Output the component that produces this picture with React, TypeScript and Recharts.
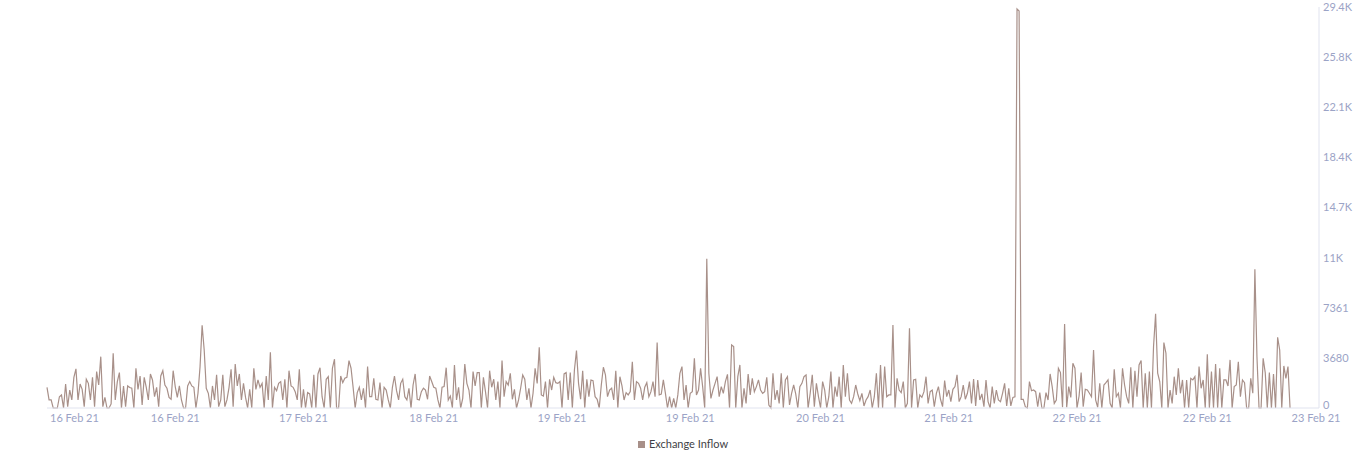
import { LineChart, Line, XAxis, YAxis, Legend } from 'recharts'

// x positions are sample indices (one sample every ~15 min)
const tickIdx = [0, 62, 124, 187, 249, 311, 374, 436, 498, 561, 615]
const tickLabels = [
  '16 Feb 21', '16 Feb 21', '17 Feb 21', '18 Feb 21', '19 Feb 21', '19 Feb 21',
  '20 Feb 21', '21 Feb 21', '22 Feb 21', '22 Feb 21', '23 Feb 21',
]
const yTicks = [0, 3680, 7361, 11041, 14721, 18401, 22082, 25762, 29442]

const inflow = [
  // 16 Feb
  1520, 590, 590, 0, 0, 0, 830, 960, 0, 1760,
  100, 1320, 590, 2250, 2870, 590, 1760, 1370, 100, 2110,
  1810, 590, 2250, 100, 2670, 1690, 3770, 100, 780, 0,
  0, 300, 4020, 590, 1940, 2600, 0, 1620, 100, 1620,
  1500, 1450, 0, 2920, 1370, 2350, 220, 2250, 1520, 590,
  2500, 2060, 830, 1520, 100, 2350, 2740, 1690, 1450, 780,
  640, 2740, 1570, 780, 1620, 590, 0, 0, 1620, 1940,
  1620, 1520, 0, 1080, 3040, 6080, 4260, 1450, 1080, 0,
  1620, 590, 2430, 100, 590, 2430, 100, 590, 1500, 2840,
  100, 3230, 1620, 2500, 590, 1810, 780, 0, 1370, 0,
  2920, 1370, 2060,
  // 17 Feb
  1520, 1810, 0, 2350, 590, 4090, 0, 1520, 1270, 1810,
  1940, 590, 2110, 0, 2740, 1620, 1520, 1200, 590, 2840,
  0, 1370, 0, 1130, 1030, 0, 2430, 0, 2500, 2960,
  830, 0, 2110, 2300, 0, 2920, 3580, 0, 0,
  2350, 1860, 2180, 2250, 3480, 2920, 1520, 0, 1130,
  1520, 590, 1450, 0, 3040, 830, 830, 2180, 640,
  590, 1860, 0, 1520, 1320, 590, 0, 1520, 2350, 1270,
  590, 1810, 2110, 830, 590, 1450, 0, 1690, 2500, 640,
  590, 1200, 1450, 1320, 640, 2350, 1940, 1520, 1450, 590,
  0, 1520, 1570, 2960, 590, 880, 0, 3160, 590, 1520,
  0, 710, 3230, 1810, 1320,
  // 18 Feb
  0, 2670, 1620, 2600, 2600, 0, 2250, 1200, 0, 2740,
  1520, 2110, 590, 1940, 0, 3480, 830, 1940, 1690, 2550,
  640, 1370, 0, 590, 1450, 2430, 2110, 590, 1450, 0,
  1080, 2920, 1810, 4460, 960, 880, 1940, 0, 2110, 1320,
  2250, 1860, 1810, 1940, 0, 2500, 2600, 590, 2600, 0,
  2790, 4210, 1810, 640, 2740, 0, 2110, 830, 2060, 2010,
  830, 640, 0, 1690, 2990, 2430, 830, 1320, 1450, 590,
  2740, 0, 2300, 1620, 590, 1130, 960, 1200, 3400, 590,
  1940, 1810, 1450, 590, 1520, 1860, 830, 1200, 1940, 830,
  4800, 960, 1030, 2060, 1080, 0, 830, 0, 710, 0,
  960, 2550,
  // 19 Feb
  3040, 590, 1690, 0, 1080, 1200, 3650, 960, 1320, 2920,
  1570, 0, 10950, 2550, 710, 1320, 1810, 2300, 830, 1570,
  1080, 1940, 2470, 0, 4630, 4510, 0, 2300, 3160, 0,
  1450, 340, 2500, 960, 2180, 1200, 1570, 2060, 1320, 1080,
  1200, 2250, 220, 0, 2550, 590, 1320, 340, 2550, 0,
  2060, 2300, 220, 1080, 1690, 1030, 0, 1570, 1810, 2300,
  2430, 0, 1080, 2430, 100, 1810, 830, 0, 1940, 1320,
  0, 830, 2670, 0, 1570, 830, 2300, 0, 3160, 830,
  2550, 590, 340, 830, 1690, 1030, 540, 1080, 150, 590,
  830, 1320, 0, 830, 2550, 0, 3160, 0, 3040, 830,
  960,
  // 20-21 Feb
  960, 6100, 0, 2180, 1320, 1130, 1940, 0, 340, 5860,
  0, 2060, 2110, 0, 960, 780, 1200, 2300, 340, 1200,
  1320, 100, 1080, 1570, 640, 100, 2010, 830, 1320, 470,
  1370, 1570, 2430, 470, 830, 1690, 640, 1080, 1940, 340,
  2130, 150, 2060, 590, 1030, 100, 2060, 470, 0, 1570,
  340, 1320, 590, 470, 1080, 1810, 150, 1450, 150, 780,
  830, 29300, 29150,
  640, 640, 100, 0, 1940, 1270, 1320, 1200, 100, 1130,
  0, 0, 1130, 590, 2500, 1570, 340, 590, 2920, 2600,
  50, 6170, 50, 1570, 780, 3280, 2920, 0, 880, 2600,
  100, 1370, 1320, 1080, 830, 4260, 590, 50, 1810,
  // 22 Feb
  0, 1690, 1860, 2060, 340, 0, 2840, 830, 1080, 0,
  2920, 1690, 830, 340, 2990, 0, 2740, 830, 3160, 3480,
  0, 2550, 0, 2670, 0, 4510, 6910, 2550, 1940, 0,
  4800, 4020, 0, 1320, 340, 2300, 960, 2920, 1080, 2060,
  0, 2060, 0, 2180, 2060, 2300, 0, 3040, 1450, 2060,
  0, 3940, 0, 2670, 0, 3230, 0, 2920, 0, 2060,
  2060, 1620, 3530, 0, 1570, 1690, 3400, 830, 2060, 1860,
  0, 0, 2180, 1080, 10190, 3770, 0, 0, 3650, 2600,
  0, 2600, 0, 2500, 0, 5190, 4260, 0, 3090, 2180,
  3040, 0,
]

const data = inflow.map((v, i) => ({ i, v }))

const lineColor = '#a89089'
const labelColor = '#9ba3c6'
const axisColor = '#e0e3ef'

function fmtY(v: number) {
  if (v < 10000) return String(v)
  return (v / 1000).toFixed(1).replace(/\.0$/, '') + 'K'
}

function XTick(props: any) {
  const { x, y, payload } = props
  const k = tickIdx.indexOf(payload.value)
  const first = k === 0
  const last = k === tickIdx.length - 1
  return (
    <text
      x={first ? x + 3 : last ? x - 3 : x}
      y={y}
      dy={6}
      textAnchor={first ? 'start' : 'middle'}
      fill={labelColor}
      fontSize={11}
    >
      {tickLabels[k]}
    </text>
  )
}

function YTick(props: any) {
  const { x, y, payload } = props
  // the zero label sits a little above the axis so it clears the date below
  const lift = payload.value === 0 ? -3 : 0
  return (
    <text x={x} y={y + lift} dy="0.355em" textAnchor="start" fill={labelColor} fontSize={11}>
      {fmtY(payload.value)}
    </text>
  )
}

function LegendBox() {
  return (
    <div style={{
      height: 28,
      boxSizing: 'border-box',
      paddingTop: 4,
      display: 'flex',
      justifyContent: 'center',
      alignItems: 'flex-start',
    }}>
      <span style={{ display: 'flex', alignItems: 'center', lineHeight: '12px' }}>
        <span style={{ width: 7, height: 7, background: lineColor, marginRight: 4 }} />
        <span style={{ fontSize: 11, color: '#3f3f46' }}>Exchange Inflow</span>
      </span>
    </div>
  )
}

export default function App() {
  return (
    <div style={{
      position: 'absolute',
      left: 0,
      top: 0,
      width: 1366,
      height: 462,
      background: '#fff',
      fontFamily: 'Lato, "Open Sans", sans-serif',
    }}>
      <LineChart
        width={1366}
        height={462}
        data={data}
        margin={{ top: 7, right: 0, bottom: 0, left: 47 }}
      >
        <XAxis
          dataKey="i"
          type="number"
          domain={[0, 615]}
          ticks={tickIdx}
          interval={0}
          tickLine={false}
          axisLine={{ stroke: axisColor }}
          tick={<XTick />}
          height={26}
        />
        <YAxis
          orientation="right"
          domain={[0, 29442]}
          ticks={yTicks}
          interval={0}
          tickLine={false}
          tickSize={2}
          tickMargin={2}
          axisLine={{ stroke: axisColor }}
          tick={<YTick />}
          width={47}
        />
        <Legend
          verticalAlign="bottom"
          content={<LegendBox />}
          width={1366}
          wrapperStyle={{ left: 0, width: 1366 }}
        />
        <Line
          type="linear"
          dataKey="v"
          stroke={lineColor}
          strokeWidth={1.2}
          dot={false}
          isAnimationActive={false}
        />
      </LineChart>
    </div>
  )
}
